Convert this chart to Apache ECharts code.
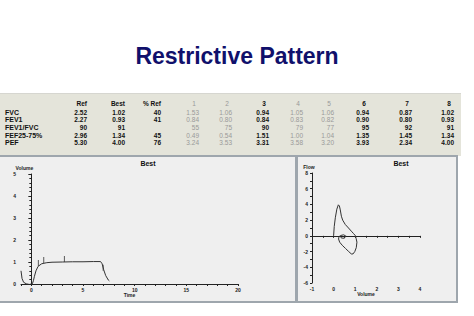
<!DOCTYPE html>
<html>
<head>
<meta charset="utf-8">
<script src="https://cdn.jsdelivr.net/npm/echarts@6/dist/echarts.min.js"></script>
<style>
  html, body { margin: 0; padding: 0; background: #fff; }
  #main { width: 474px; height: 316px; }
</style>
</head>
<body>
<div id="main"></div>
<script>
var chart = echarts.init(document.getElementById('main'), null, { renderer: 'svg' });

// table
var colHeads = ['Ref', 'Best', '% Ref', '1', '2', '3', '4', '5', '6', '7', '8'];
var rowLabels = ['FVC', 'FEV1', 'FEV1/FVC', 'FEF25-75%', 'PEF'];
var refVals  = ['2.52', '2.27', '90', '2.96', '5.30'];
var bestVals = ['1.02', '0.93', '91', '1.34', '4.00'];
var pctRef   = ['40', '41', '', '45', '76'];
var trial1 = ['1.53', '0.84', '55', '0.49', '3.24'];
var trial2 = ['1.06', '0.80', '75', '0.54', '3.53'];
var trial3 = ['0.94', '0.84', '90', '1.51', '3.31'];
var trial4 = ['1.05', '0.83', '79', '1.00', '3.58'];
var trial5 = ['1.06', '0.82', '77', '1.04', '3.20'];
var trial6 = ['0.94', '0.90', '95', '1.35', '3.93'];
var trial7 = ['0.87', '0.80', '92', '1.45', '2.34'];
var trial8 = ['1.02', '0.93', '91', '1.34', '4.00'];
var greyTrials = ['1', '2', '4', '5'];

// volume-time curve [time, volume]
var volTime = [[-1, 0.6], [-0.9, 0.25], [-0.75, 0.08], [-0.5, 0.01], [-0.2, -0.02], [0.1, 0.01],
  [0.2, 0.15], [0.3, 0.35], [0.45, 0.6], [0.65, 0.8], [1.0, 0.92], [1.5, 0.97], [2, 0.99],
  [3, 1.0], [4, 1.01], [5, 1.01], [6, 1.02], [6.7, 1.02], [6.85, 0.92], [7.0, 0.65],
  [7.2, 0.38], [7.45, 0.18], [7.55, 0.14]];
var volMarks = [[0.68, 0.82], [1.2, 0.95], [3.2, 1.0], [6.95, 0.6]];

// flow-volume loop [volume, flow]
var flowVol = [[0, 0], [0.03, 1.2], [0.08, 2.3], [0.15, 3.4], [0.22, 3.95], [0.27, 3.8],
  [0.31, 3.3], [0.36, 2.5], [0.42, 2.0], [0.54, 1.45], [0.69, 1.0], [0.82, 0.6], [0.92, 0.3],
  [1.0, 0.05], [1.04, -0.3], [1.08, -0.8], [1.05, -1.5], [0.98, -2.0], [0.9, -2.3],
  [0.82, -2.3], [0.7, -2.0], [0.55, -1.6], [0.4, -1.2], [0.28, -0.8], [0.23, -0.4],
  [0.25, -0.1], [0.33, 0.05], [0.46, 0.13], [0.56, 0.0], [0.5, -0.3], [0.36, -0.28], [0.33, -0.1]];

var font = 'Liberation Sans, Arial, sans-serif';
var colRight = [87, 125, 161, 199, 232, 269, 303, 334, 369, 412, 454];
var rowY = [112, 119.5, 127.5, 135, 142.5];
var columns = [refVals, bestVals, pctRef, trial1, trial2, trial3, trial4, trial5, trial6, trial7, trial8];

var graphics = [
  { type: 'rect', shape: { x: 0, y: 93, width: 461, height: 1 }, style: { fill: '#d6d6d0' } },
  { type: 'rect', shape: { x: 0, y: 94, width: 461, height: 62 }, style: { fill: '#e4e4da' } },
  { type: 'rect', shape: { x: 0, y: 155, width: 458, height: 2 }, style: { fill: '#9ea6ad' } },
  { type: 'rect', shape: { x: 0, y: 157, width: 295, height: 145 }, style: { fill: '#efefef' } },
  { type: 'rect', shape: { x: 295, y: 155, width: 3, height: 148 }, style: { fill: '#9ea6ad' } },
  { type: 'rect', shape: { x: 298, y: 157, width: 159, height: 145 }, style: { fill: '#efefef' } },
  { type: 'rect', shape: { x: 456, y: 155, width: 2, height: 148 }, style: { fill: '#9ea6ad' } },
  { type: 'rect', shape: { x: 0, y: 301, width: 458, height: 2 }, style: { fill: '#9ea6ad' } },
  { type: 'text', x: 237, y: 56, style: { text: 'Restrictive Pattern', fill: '#10106b',
    font: 'bold 23px ' + font, textAlign: 'center', textVerticalAlign: 'middle' } },
  { type: 'text', x: 148, y: 163, style: { text: 'Best', fill: '#111',
    font: 'bold 7px ' + font, textAlign: 'center', textVerticalAlign: 'middle' } },
  { type: 'text', x: 401, y: 163, style: { text: 'Best', fill: '#111',
    font: 'bold 7px ' + font, textAlign: 'center', textVerticalAlign: 'middle' } }
];

colHeads.forEach(function (h, i) {
  var grey = greyTrials.indexOf(h) >= 0;
  var numeric = i >= 3;
  graphics.push({ type: 'text', x: numeric ? colRight[i] - 5 : colRight[i], y: 103,
    style: { text: h, fill: grey ? '#999' : '#111', font: (grey ? '' : 'bold ') + '6.5px ' + font,
      textAlign: numeric ? 'center' : 'right', textVerticalAlign: 'middle' } });
});
rowLabels.forEach(function (lab, r) {
  graphics.push({ type: 'text', x: 5, y: rowY[r],
    style: { text: lab, fill: '#111', font: 'bold 7px ' + font, textVerticalAlign: 'middle' } });
  columns.forEach(function (col, i) {
    var grey = greyTrials.indexOf(colHeads[i]) >= 0;
    graphics.push({ type: 'text', x: colRight[i], y: rowY[r],
      style: { text: col[r], fill: grey ? '#999' : '#111', font: (grey ? '' : 'bold ') + '6.5px ' + font,
        textAlign: 'right', textVerticalAlign: 'middle' } });
  });
});

var axisLine = { lineStyle: { color: '#222', width: 1 } };
var labelStyle = { fontSize: 5, fontWeight: 'bold', color: '#222', fontFamily: font };

option = {
  animation: false,
  graphic: graphics,
  grid: [
    { left: 21, top: 174, width: 217, height: 110 },
    { left: 312, top: 173, width: 108, height: 110 }
  ],
  xAxis: [
    {
      gridIndex: 0, type: 'value', min: -1, max: 20, interval: 1,
      name: 'Time', nameLocation: 'middle', nameGap: 7,
      nameTextStyle: labelStyle,
      axisLine: axisLine, splitLine: { show: false },
      axisTick: { length: 2, lineStyle: { color: '#222' } },
      axisLabel: Object.assign({ margin: 3, formatter: function (v) { return v % 5 === 0 ? v : ''; } }, labelStyle)
    },
    {
      gridIndex: 1, type: 'value', min: -1, max: 4, interval: 0.5,
      axisLine: { onZero: true, lineStyle: { color: '#222' } }, splitLine: { show: false },
      axisTick: { length: 2, lineStyle: { color: '#222' } },
      axisLabel: { show: false }
    },
    {
      gridIndex: 1, type: 'value', min: -1, max: 4, interval: 1, position: 'bottom',
      name: 'Volume', nameLocation: 'middle', nameGap: 6,
      nameTextStyle: labelStyle,
      axisLine: { show: false, onZero: false }, axisTick: { show: false }, splitLine: { show: false },
      axisLabel: Object.assign({ margin: 3 }, labelStyle)
    }
  ],
  yAxis: [
    {
      gridIndex: 0, type: 'value', min: 0, max: 5, interval: 1,
      name: 'Volume', nameGap: 4, nameTextStyle: Object.assign({ align: 'center', padding: [0, 14, 0, 0] }, labelStyle),
      axisLine: { show: true, lineStyle: { color: '#222' } }, splitLine: { show: false },
      axisTick: { show: true, length: 3, lineStyle: { color: '#222' } },
      minorTick: { show: true, splitNumber: 5, length: 2, lineStyle: { color: '#222' } },
      axisLabel: Object.assign({ margin: 5 }, labelStyle)
    },
    {
      gridIndex: 1, type: 'value', min: -6, max: 8, interval: 2,
      name: 'Flow', nameGap: 4, nameTextStyle: Object.assign({ align: 'center', padding: [0, 6, 0, 0] }, labelStyle),
      axisLine: { show: true, onZero: false, lineStyle: { color: '#222' } }, splitLine: { show: false },
      axisTick: { show: true, length: 2, lineStyle: { color: '#222' } },
      minorTick: { show: true, splitNumber: 2, length: 2, lineStyle: { color: '#222' } },
      axisLabel: Object.assign({ margin: 4 }, labelStyle)
    }
  ],
  series: [
    {
      type: 'line', xAxisIndex: 0, yAxisIndex: 0, data: volTime, showSymbol: false,
      lineStyle: { color: '#333', width: 1 }
    },
    {
      type: 'scatter', xAxisIndex: 0, yAxisIndex: 0, data: volMarks,
      symbol: 'rect', symbolSize: [1, 6], symbolOffset: [0, -3],
      itemStyle: { color: '#333' }
    },
    {
      type: 'line', xAxisIndex: 1, yAxisIndex: 1, data: flowVol, showSymbol: false,
      lineStyle: { color: '#333', width: 1 }
    }
  ]
};
chart.setOption(option);
</script>
</body>
</html>
